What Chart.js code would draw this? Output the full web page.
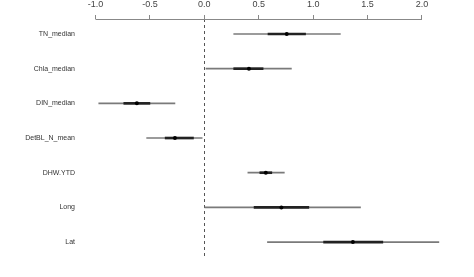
<!DOCTYPE html>
<html><head><meta charset="utf-8">
<script src="https://cdn.jsdelivr.net/npm/chart.js@4/dist/chart.umd.min.js"></script>
<style>html,body{margin:0;padding:0;background:#fff}#wrap{width:474px;height:277px}</style>
</head><body><div id="wrap"><canvas id="c" width="474" height="277"></canvas></div>
<script>
const categories = ['TN_median','Chla_median','DIN_median','DetBL_N_mean','DHW.YTD','Long','Lat'];
const medians  = [0.757, 0.41, -0.62, -0.27, 0.565, 0.708, 1.365];
const outerLow = [0.27, 0.015, -0.97, -0.53, 0.40, 0.0, 0.58];
const outerHigh= [1.25, 0.80, -0.27, -0.02, 0.735, 1.435, 2.155];
const innerLow = [0.585, 0.27, -0.74, -0.36, 0.51, 0.457, 1.096];
const innerHigh= [0.93, 0.54, -0.50, -0.10, 0.62, 0.96, 1.64];
const xTicks = [-1.0, -0.5, 0.0, 0.5, 1.0, 1.5, 2.0];

const refLine = {
  id: 'refLine',
  beforeDatasetsDraw(chart) {
    const {ctx, chartArea, scales} = chart;
    const x = Math.round(scales.x.getPixelForValue(0)) + 0.5;
    ctx.save();
    ctx.strokeStyle = '#555';
    ctx.lineWidth = 1;
    ctx.setLineDash([3, 3]);
    ctx.beginPath();
    ctx.moveTo(x, chartArea.top);
    ctx.lineTo(x, chartArea.bottom);
    ctx.stroke();
    ctx.setLineDash([]);
    const y = chartArea.top + 0.5;
    ctx.strokeStyle = '#888';
    ctx.beginPath();
    ctx.moveTo(scales.x.getPixelForValue(xTicks[0]), y);
    ctx.lineTo(scales.x.getPixelForValue(xTicks[xTicks.length-1]), y);
    ctx.stroke();
    ctx.restore();
  }
};

new Chart(document.getElementById('c'), {
  type: 'bar',
  data: {
    datasets: [
      { type: 'scatter', data: categories.map((c,i)=>({x: medians[i], y: i})), pointRadius: 2, pointBackgroundColor: '#000', pointBorderWidth: 0, order: 0 },
      { data: categories.map((c,i)=>({y: i, x: [innerLow[i], innerHigh[i]]})), backgroundColor: '#222', barThickness: 2, grouped: false, order: 1 },
      { data: categories.map((c,i)=>({y: i, x: [outerLow[i], outerHigh[i]]})), backgroundColor: '#7a7a7a', barThickness: 1, grouped: false, order: 2 }
    ]
  },
  options: {
    indexAxis: 'y',
    responsive: false,
    animation: false,
    layout: { padding: { left: 0, right: 24, top: 0, bottom: 19 } },
    plugins: { legend: { display: false }, tooltip: { enabled: false } },
    scales: {
      x: {
        type: 'linear', position: 'top', min: -1.0873, max: 2.2573,
        afterBuildTicks: s => { s.ticks = xTicks.map(v => ({value: v})); },
        afterFit: s => { s.height = 19; },
        border: { display: false },
        grid: { drawOnChartArea: false, drawTicks: true, tickLength: 4, color: '#888' },
        ticks: { padding: 5, color: '#444', maxRotation: 0, font: { family: 'Liberation Sans', size: 9 }, callback: v => v.toFixed(1) }
      },
      y: {
        type: 'linear', reverse: true, offset: false, min: -0.433, max: 6.46,
        afterBuildTicks: s => { s.ticks = categories.map((c,i) => ({value: i})); },
        afterFit: s => { s.width = 86; },
        border: { display: false },
        grid: { display: false, drawTicks: false, offset: false },
        ticks: { padding: 11, color: '#333', font: { family: 'Liberation Sans', size: 7 }, callback: v => categories[v] }
      }
    }
  },
  plugins: [refLine]
});
</script></body></html>
